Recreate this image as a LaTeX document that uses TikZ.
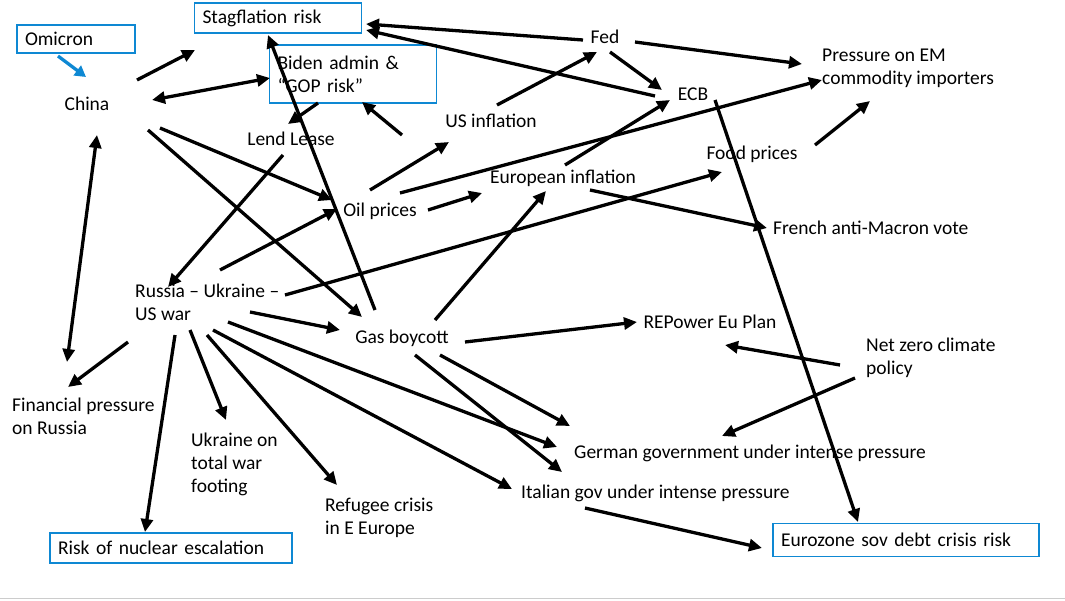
\documentclass[tikz,border=0pt]{standalone}
\usepackage{fontspec}
\setmainfont{Carlito}
\usetikzlibrary{arrows.meta}
\begin{document}
\begin{tikzpicture}[x=1pt,y=-1pt,
  lbl/.style={font=\fontsize{19.5}{23}\selectfont, align=left, inner sep=1pt},
  bx/.style={lbl, draw=cyan!70!blue, line width=1.8pt, inner xsep=8pt, inner ysep=3pt},
  ar/.style={line width=3.3pt, -{Triangle[length=13pt,width=12pt]}},
  dar/.style={line width=3.3pt, {Triangle[length=13pt,width=12pt]}-{Triangle[length=13pt,width=12pt]}}]
\useasboundingbox (0,0) rectangle (1065,600);
\draw[gray!40, line width=1pt] (0,598) -- (1065,598);
\node[bx, minimum width=118pt, minimum height=28pt, text width=102pt] (omi) at (76,39) {Omicron};
\node[bx, minimum width=167pt, minimum height=30pt, text width=151pt] (stag) at (278,18) {Stagflation risk};
\node[bx, minimum width=167pt, minimum height=58pt, text width=151pt] (biden) at (353,74) {Biden admin \&\\``GOP risk''};
\node[bx, minimum width=242pt, minimum height=30pt, text width=226pt] (nuc) at (171,548) {Risk of nuclear escalation};
\node[bx, minimum width=266pt, minimum height=33pt, text width=250pt] (ez) at (906,540) {Eurozone sov debt crisis risk};
\node[lbl] (china) at (87,104) {China};
\node[lbl] (lend) at (291,139) {Lend Lease};
\node[lbl] (usinf) at (491,121) {US inflation};
\node[lbl] (fed) at (605,37) {Fed};
\node[lbl] (ecb) at (693,94) {ECB};
\node[lbl, anchor=west] (em) at (821,68) {Pressure on EM\\commodity importers};
\node[lbl] (food) at (752,154) {Food prices};
\node[lbl] (euinf) at (563,178) {European inflation};
\node[lbl] (oil) at (380,211) {Oil prices};
\node[lbl, anchor=west] (fr) at (772,228) {French anti-Macron vote};
\node[lbl, anchor=west] (war) at (134,302) {Russia -- Ukraine --\\US war};
\node[lbl] (gas) at (402,338) {Gas boycott};
\node[lbl] (rep) at (710,322) {REPower Eu Plan};
\node[lbl, anchor=west] (nz) at (865,358) {Net zero climate\\policy};
\node[lbl, anchor=west] (fin) at (11,416) {Financial pressure\\on Russia};
\node[lbl, anchor=west] (ukr) at (190,464) {Ukraine on\\total war\\footing};
\node[lbl, anchor=west] (ref) at (324,518) {Refugee crisis\\in E Europe};
\node[lbl, anchor=west] (ger) at (573,453) {German government under intense pressure};
\node[lbl, anchor=west] (ita) at (520,493) {Italian gov under intense pressure};
\draw[cyan!70!blue, line width=3.3pt, -{Triangle[length=11pt,width=12pt]}] (58,56) -- (86,77);
\draw[ar] (137,80) -- (195,50);
\draw[dar] (152,100) -- (270,78);
\draw[ar] (318,103) -- (288,124);
\draw[ar] (402,135) -- (362,102);
\draw[ar] (375,310) -- (268,35);
\draw[ar] (583,40) -- (366,24);
\draw[ar] (655,96) -- (366,30);
\draw[ar] (610,52) -- (662,90);
\draw[ar] (635,42) -- (802,64);
\draw[ar] (497,105) -- (597,52);
\draw[ar] (565,165) -- (670,100);
\draw[ar] (400,193) -- (822,80);
\draw[ar] (370,190) -- (449,142);
\draw[ar] (428,210) -- (482,193);
\draw[ar] (815,145) -- (870,101);
\draw[ar] (590,190) -- (767,228);
\draw[ar] (715,100) -- (858,522);
\draw[ar] (160,128) -- (332,200);
\draw[ar] (148,130) -- (362,317);
\draw[dar] (97,135) -- (67,362);
\draw[ar] (283,155) -- (168,287);
\draw[ar] (220,270) -- (337,209);
\draw[ar] (285,295) -- (722,172);
\draw[ar] (250,312) -- (340,330);
\draw[ar] (128,342) -- (68,387);
\draw[ar] (175,335) -- (145,532);
\draw[ar] (190,330) -- (226,420);
\draw[ar] (207,335) -- (337,485);
\draw[ar] (228,322) -- (557,447);
\draw[ar] (213,330) -- (512,489);
\draw[ar] (465,342) -- (637,322);
\draw[ar] (440,355) -- (570,426);
\draw[ar] (415,355) -- (562,472);
\draw[ar] (435,320) -- (546,191);
\draw[ar] (840,365) -- (725,345);
\draw[ar] (855,378) -- (722,436);
\draw[ar] (585,508) -- (762,548);
\end{tikzpicture}
\end{document}
